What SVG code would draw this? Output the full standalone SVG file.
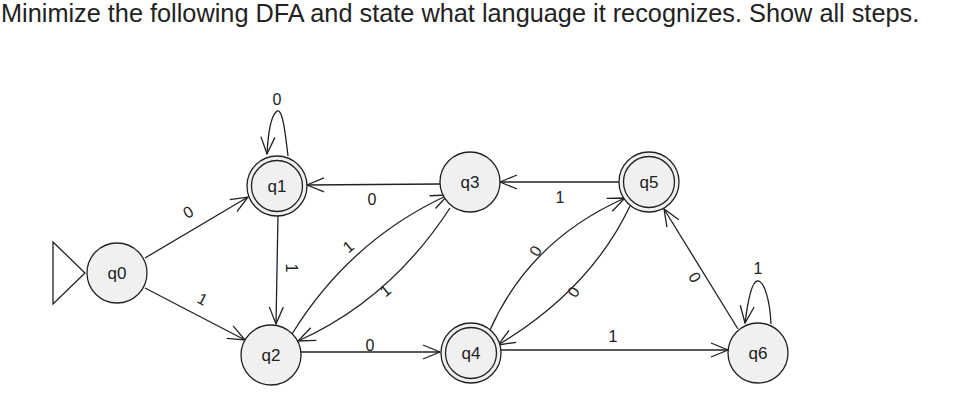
<svg xmlns="http://www.w3.org/2000/svg" width="967" height="400" viewBox="0 0 967 400">
<style>
.n{fill:#f0f0f0;stroke:#222;stroke-width:1.3}
.r{fill:none;stroke:#222;stroke-width:1.3}
.e{fill:none;stroke:#222;stroke-width:1.3;marker-end:url(#a)}
text{font-family:"Liberation Sans",Arial,sans-serif;fill:#222}
.t{font-size:17px;text-anchor:middle}
.l{font-size:16px;text-anchor:middle}
</style>
<defs>
<marker id="a" viewBox="0 0 20 20" refX="19" refY="10" markerWidth="20" markerHeight="20" markerUnits="userSpaceOnUse" orient="auto">
<path d="M2 3 L19 10 L2 17" fill="none" stroke="#222" stroke-width="1.3"/>
</marker>
</defs>
<rect width="967" height="400" fill="#fff"/>
<text x="1" y="22" style="font-size:25.3px">Minimize the following DFA and state what language it recognizes. Show all steps.</text>
<g id="connectors">
<path class="e" d="M145 258 L248 197"/>
<path class="e" d="M145 288 L245 340"/>
<path class="e" d="M288 156 C285 130 282 105 276 112 C270 118 268 135 267 154"/>
<path class="e" d="M278 216 L276 324"/>
<path class="e" d="M440 184 L307 185"/>
<path class="e" d="M292 334 Q350 240 448 195"/>
<path class="e" d="M450 208 Q390 300 298 341"/>
<path class="e" d="M300 352 L440 352"/>
<path class="e" d="M619 182 L500 182"/>
<path class="e" d="M490 330 Q530 240 625 198"/>
<path class="e" d="M630 206 Q590 290 498 345"/>
<path class="e" d="M738 329 L664 209"/>
<path class="e" d="M501 350 L728 350"/>
<path class="e" d="M771 324 C770 300 764 280 757 281 C752 282 748 300 745 323"/>
</g>
<g id="labels">
<text class="l" transform="translate(191,217) rotate(-31)">0</text>
<text class="l" transform="translate(200,304) rotate(28)">1</text>
<text class="l" x="277" y="105">0</text>
<text class="l" transform="translate(286,268) rotate(90)">1</text>
<text class="l" x="372" y="205">0</text>
<text class="l" transform="translate(352,251) rotate(-40)">1</text>
<text class="l" transform="translate(389,295) rotate(-40)">1</text>
<text class="l" x="370" y="351">0</text>
<text class="l" x="560" y="203">1</text>
<text class="l" transform="translate(540,254) rotate(-55)">0</text>
<text class="l" transform="translate(578,295) rotate(-55)">0</text>
<text class="l" transform="translate(690,280) rotate(60)">0</text>
<text class="l" x="613" y="342">1</text>
<text class="l" x="758" y="274">1</text>
</g>
<g id="start"><path class="r" d="M53 242 L85 273 L53 304 Z"/></g>
<g id="q0"><circle class="n" cx="117" cy="273" r="30"/><text class="t" x="117" y="279">q0</text></g>
<g id="q1"><circle class="n" cx="277" cy="186" r="30"/><circle class="r" cx="277" cy="186" r="25.5"/><text class="t" x="277" y="192">q1</text></g>
<g id="q2"><circle class="n" cx="271" cy="355" r="30"/><text class="t" x="271" y="361">q2</text></g>
<g id="q3"><circle class="n" cx="470" cy="182" r="30"/><text class="t" x="470" y="188">q3</text></g>
<g id="q4"><circle class="n" cx="471" cy="353" r="30"/><circle class="r" cx="471" cy="353" r="25.5"/><text class="t" x="471" y="359">q4</text></g>
<g id="q5"><circle class="n" cx="649" cy="182" r="30"/><circle class="r" cx="649" cy="182" r="25.5"/><text class="t" x="649" y="188">q5</text></g>
<g id="q6"><circle class="n" cx="758" cy="353" r="30"/><text class="t" x="758" y="359">q6</text></g>
</svg>
